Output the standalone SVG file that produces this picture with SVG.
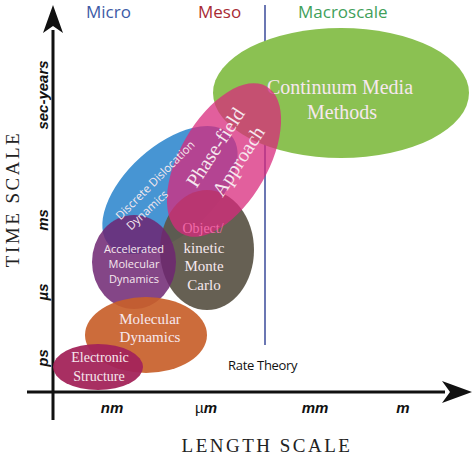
<svg xmlns="http://www.w3.org/2000/svg" width="474" height="458" viewBox="0 0 474 458">
<defs>
<style>
.ax{stroke:#111;stroke-width:3;fill:none}
.sans{font-family:"Open Sans","Liberation Sans",sans-serif}
.ser{font-family:"Liberation Serif",serif}
.tick{font-family:"Liberation Sans",sans-serif;font-weight:bold;font-style:italic;font-size:15px;fill:#111}
.lab{font-family:"Liberation Serif",serif;font-size:19px;fill:#222;letter-spacing:2.5px}
.wt{fill:#f6e8ee}
</style>
</defs>
<rect width="474" height="458" fill="#fff"/>
<g id="axes">
<line class="ax" x1="53" y1="30" x2="53" y2="420"/>
<polygon points="53,5 43,33 53,26 63,33" fill="#111"/>
<line class="ax" x1="27" y1="392" x2="445" y2="392"/>
<polygon points="472,392 442,381 450,392 442,403" fill="#111"/>
<line x1="265" y1="5" x2="265" y2="345" stroke="#3a4a9a" stroke-width="1.5"/>
</g>
<g id="scale-labels" class="sans" font-size="17">
<text x="86" y="18" fill="#3c5aa6">Micro</text>
<text x="198" y="18" fill="#a82a34">Meso</text>
<text x="298" y="18" fill="#3fa05a">Macroscale</text>
</g>
<g id="green"><ellipse cx="341" cy="93" rx="128" ry="65" fill="#8bc152"/>
<text class="ser wt" font-size="20" text-anchor="middle" x="340" y="94">Continuum Media</text>
<text class="ser wt" font-size="20" text-anchor="middle" x="342" y="119">Methods</text></g>
<g id="blue"><ellipse cx="170" cy="190" rx="82" ry="44" transform="rotate(-42 170 190)" fill="#3d8fd1" opacity="0.95"/></g>
<g id="kmc"><ellipse cx="207" cy="250" rx="47" ry="60" fill="#5e574a" opacity="0.95"/></g>
<g id="pink"><ellipse cx="224" cy="160" rx="85" ry="44" transform="rotate(-60 224 160)" fill="#d82a7c" opacity="0.75"/>
<text class="ser wt" font-size="20" text-anchor="middle" transform="translate(221,151) rotate(-57)">Phase-field</text>
<text class="ser wt" font-size="20" text-anchor="middle" transform="translate(244,165) rotate(-57)">Approach</text></g>
<g id="kmc-text">
<text class="ser" font-size="14" fill="#f16aa8" text-anchor="middle" x="203" y="233">Object/</text>
<text class="ser wt" font-size="15" text-anchor="middle" x="204" y="253">kinetic</text>
<text class="ser wt" font-size="15" text-anchor="middle" x="204" y="271">Monte</text>
<text class="ser wt" font-size="15" text-anchor="middle" x="204" y="290">Carlo</text></g>
<g id="amd"><ellipse cx="134" cy="262" rx="42" ry="47" fill="#6e2672" opacity="0.85"/>
<text class="sans wt" font-size="11" text-anchor="middle" x="134" y="253">Accelerated</text>
<text class="sans wt" font-size="11" text-anchor="middle" x="134" y="268">Molecular</text>
<text class="sans wt" font-size="11" text-anchor="middle" x="134" y="283">Dynamics</text></g>
<g id="ddd-text"><text class="sans wt" font-size="11.5" text-anchor="middle" transform="translate(158,183) rotate(-45)">Discrete Dislocation</text>
<text class="sans wt" font-size="11.5" text-anchor="middle" transform="translate(150,213) rotate(-43)">Dynamics</text></g>
<g id="md"><ellipse cx="146" cy="335" rx="61" ry="38" fill="#c8602a" opacity="0.92"/>
<text class="ser wt" font-size="15" text-anchor="middle" x="150" y="324">Molecular</text>
<text class="ser wt" font-size="15" text-anchor="middle" x="150" y="342">Dynamics</text></g>
<g id="es"><ellipse cx="98" cy="367" rx="45" ry="23" fill="#a3245a" opacity="0.95"/>
<text class="ser wt" font-size="14" text-anchor="middle" x="100" y="362">Electronic</text>
<text class="ser wt" font-size="14" text-anchor="middle" x="99" y="381">Structure</text></g>
<g id="rate"><text class="sans" font-size="13" fill="#111" x="228" y="370" letter-spacing="-0.3">Rate Theory</text></g>
<g id="ticks">
<text class="tick" transform="translate(48,95) rotate(-90)" text-anchor="middle">sec-years</text>
<text class="tick" transform="translate(48,220) rotate(-90)" text-anchor="middle">ms</text>
<text class="tick" transform="translate(48,292) rotate(-90)" text-anchor="middle" font-weight="normal" font-style="normal">µs</text>
<text class="tick" transform="translate(48,358) rotate(-90)" text-anchor="middle">ps</text>
<text class="tick" x="112" y="413" text-anchor="middle">nm</text>
<text class="tick" x="206" y="413" text-anchor="middle"><tspan font-weight="normal" font-style="normal">µ</tspan>m</text>
<text class="tick" x="315" y="413" text-anchor="middle">mm</text>
<text class="tick" x="403" y="413" text-anchor="middle">m</text>
</g>
<g id="titles">
<text class="lab" transform="translate(19,199) rotate(-90)" text-anchor="middle">TIME SCALE</text>
<text class="lab" x="267" y="452" text-anchor="middle">LENGTH SCALE</text>
</g>
</svg>
